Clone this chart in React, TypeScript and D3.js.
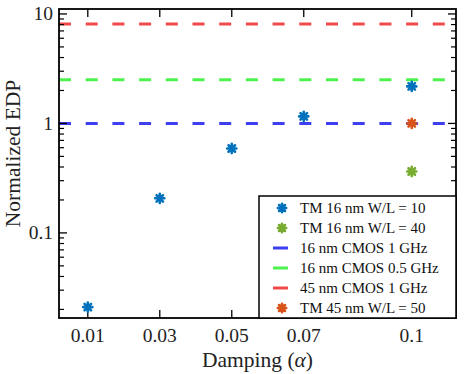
import React from "react"
import * as d3 from "d3"

// values
const damping = [0.01, 0.03, 0.05, 0.07, 0.1]
const tm16wl10 = [0.021, 0.207, 0.59, 1.16, 2.18]
const tm16wl40Damping = [0.1]
const tm16wl40 = [0.364]
const tm45wl50Damping = [0.1]
const tm45wl50 = [1.0]
const cmosNames = ["16 nm CMOS 1 GHz", "16 nm CMOS 0.5 GHz", "45 nm CMOS 1 GHz"]
const cmosValues = [1.0, 2.5, 8.1]
const cmosColors = ["#3f3ff2", "#4df24d", "#f24a4a"]
const xTicks = [0.01, 0.03, 0.05, 0.07, 0.1]
const xTickLabels = ["0.01", "0.03", "0.05", "0.07", "0.1"]
const yTicks = [0.1, 1, 10]
const yTickLabels = ["0.1", "1", "10"]

const W = 474
const H = 374
const left = 59, right = 456, top = 9, bottom = 318
const font = "'Liberation Serif', 'Times New Roman', serif"

const x = d3.scaleLinear().domain([0.002, 0.1123]).range([left, right])
const y = d3.scaleLog().domain([0.0167, 11.1]).range([bottom, top])

const minorTicks = y.ticks(40).filter(t => !yTicks.some(m => Math.abs(m - t) < 1e-9))

function Star({ cx, cy, color, r = 4.6 }) {
    const arms = d3.range(4).map(i => (i * Math.PI) / 4)
    const d = arms
        .map(a => `M${cx - r * Math.cos(a)},${cy - r * Math.sin(a)}L${cx + r * Math.cos(a)},${cy + r * Math.sin(a)}`)
        .join("")
    return (
        <g>
            <circle cx={cx} cy={cy} r={r * 0.55} fill={color} />
            <path d={d} stroke={color} strokeWidth={2.6} strokeLinecap="round" />
        </g>
    )
}

const legendItems = [
    { kind: "star", color: "#0072bd", label: "TM 16 nm W/L = 10" },
    { kind: "star", color: "#77ac30", label: "TM 16 nm W/L = 40" },
    { kind: "line", color: cmosColors[0], label: cmosNames[0] },
    { kind: "line", color: cmosColors[1], label: cmosNames[1] },
    { kind: "line", color: cmosColors[2], label: cmosNames[2] },
    { kind: "star", color: "#d95319", label: "TM 45 nm W/L = 50" },
]

export default function App() {
    const legX = 259, legY = 196, legW = right - 259, legH = bottom - 196
    return (
        <svg width={W} height={H} style={{ position: "absolute", left: 0, top: 0, background: "#fff" }}
            fontFamily={font}>
            <rect x={0} y={0} width={W} height={H} fill="#fff" />

            {/* reference lines */}
            {cmosValues.map((v, i) => (
                <line key={"c" + i} x1={left} x2={right} y1={y(v)} y2={y(v)}
                    stroke={cmosColors[i]} strokeWidth={3} strokeDasharray="12 14.7" />
            ))}

            {/* ticks */}
            {xTicks.map((t, i) => (
                <g key={"xt" + i}>
                    <line x1={x(t)} x2={x(t)} y1={bottom} y2={bottom - 8} stroke="#000" strokeWidth={1.3} />
                    <line x1={x(t)} x2={x(t)} y1={top} y2={top + 8} stroke="#000" strokeWidth={1.3} />
                    <text x={x(t)} y={342} textAnchor="middle" fontSize={19.5} fill="#222">{xTickLabels[i]}</text>
                </g>
            ))}
            {yTicks.map((t, i) => (
                <g key={"yt" + i}>
                    <line x1={left} x2={left + 8} y1={y(t)} y2={y(t)} stroke="#000" strokeWidth={1.3} />
                    <line x1={right} x2={right - 8} y1={y(t)} y2={y(t)} stroke="#000" strokeWidth={1.3} />
                    <text x={53} y={y(t) + 6.5} textAnchor="end" fontSize={19.5} fill="#222">{yTickLabels[i]}</text>
                </g>
            ))}
            {minorTicks.map((t, i) => (
                <g key={"ym" + i}>
                    <line x1={left} x2={left + 5} y1={y(t)} y2={y(t)} stroke="#000" strokeWidth={1.2} />
                    <line x1={right} x2={right - 5} y1={y(t)} y2={y(t)} stroke="#000" strokeWidth={1.2} />
                </g>
            ))}

            {/* points */}
            {damping.map((d, i) => (
                <Star key={"a" + i} cx={x(d)} cy={y(tm16wl10[i])} color="#0072bd" />
            ))}
            {tm16wl40Damping.map((d, i) => (
                <Star key={"b" + i} cx={x(d)} cy={y(tm16wl40[i])} color="#77ac30" />
            ))}
            {tm45wl50Damping.map((d, i) => (
                <Star key={"c" + i} cx={x(d)} cy={y(tm45wl50[i])} color="#d95319" />
            ))}

            {/* frame */}
            <rect x={left} y={top} width={right - left} height={bottom - top} fill="none" stroke="#000" strokeWidth={1.8} />

            {/* legend */}
            <rect x={legX} y={legY} width={legW} height={legH} fill="#fff" stroke="#000" strokeWidth={1.5} />
            {legendItems.map((it, i) => {
                const cy = legY + 12 + i * 20
                return (
                    <g key={"l" + i}>
                        {it.kind === "star"
                            ? <Star cx={282} cy={cy} color={it.color} r={4.2} />
                            : <line x1={273} x2={288} y1={cy} y2={cy} stroke={it.color} strokeWidth={3} />}
                        <text x={300} y={cy + 5} fontSize={15} fill="#111">{it.label}</text>
                    </g>
                )
            })}

            {/* axis titles */}
            <text x={(left + right) / 2} y={367} textAnchor="middle" fontSize={21.5} fill="#222">
                Damping (<tspan fontStyle="italic">α</tspan>)
            </text>
            <text transform={`translate(20,${(top + bottom) / 2 - 10}) rotate(-90)`} textAnchor="middle"
                fontSize={21.5} fill="#222">Normalized EDP</text>
        </svg>
    )
}
